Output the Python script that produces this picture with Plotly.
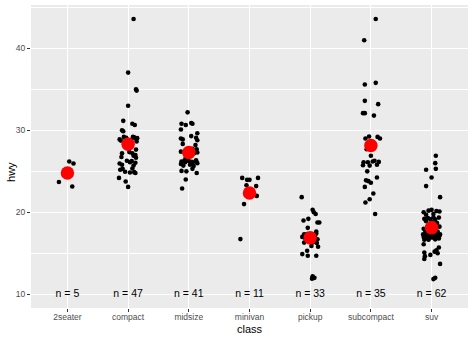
import numpy as np
import plotly.graph_objects as go

classes = ["2seater", "compact", "midsize", "minivan", "pickup", "subcompact", "suv"]

# hwy values per class (sorted) with explicit jitter offsets
hwy_2seater = [23, 24, 25, 26, 26]
jx_2seater = [0.08, -0.14, -0.02, 0.03, 0.10]
jy_2seater = [0.15, -0.3, -0.1, 0.2, -0.05]

hwy_compact = [23, 24, 24, 25, 25, 25, 25, 25, 25, 25, 26, 26, 26, 26, 26, 26, 26,
               27, 27, 27, 27, 27, 27, 27, 28, 29, 29, 29, 29, 29, 29, 29, 29, 29, 29, 29, 29,
               30, 30, 31, 31, 31, 33, 35, 35, 37, 44]
jx_compact = [0.0, -0.15, -0.04, -0.13, -0.05, 0.03, 0.10, 0.12, 0.07, -0.09,
              -0.10, 0.03, 0.12, -0.02, 0.09, 0.06, -0.14,
              -0.10, 0.07, 0.09, 0.12, -0.11, 0.02, 0.13, 0.13,
              -0.14, -0.07, 0.08, 0.12, 0.14, 0.03, -0.03, 0.10, -0.12, 0.05, 0.15, -0.05,
              -0.10, -0.08, -0.08, 0.07, 0.11, 0.0, 0.13, 0.14, 0.0, 0.09]
jy_compact = [0.1, 0.2, -0.25, 0.2, -0.05, -0.15, -0.1, -0.2, 0.35, 0.3,
              -0.2, 0.1, 0.05, 0.3, -0.3, 0.25, -0.05,
              0.2, 0.2, -0.1, 0.0, -0.25, 0.35, -0.35, -0.35,
              -0.1, 0.2, 0.2, 0.0, -0.35, -0.3, 0.1, 0.15, -0.25, -0.15, 0.05, -0.35,
              0.0, -0.1, 0.16, -0.2, -0.35, 0.0, 0.0, -0.15, 0.05, -0.4]

hwy_midsize = [23, 24, 25, 25, 25, 25, 26, 26, 26, 26, 26, 26, 26, 26, 26, 26, 26, 26, 26, 26,
               27, 27, 27, 27, 27, 28, 28, 28, 28, 29, 29, 29, 29, 29, 30, 30, 31, 31, 31, 31, 32]
jx_midsize = [-0.11, -0.05, -0.12, -0.04, 0.06, 0.13,
              -0.12, -0.06, 0.0, 0.05, 0.11, 0.14, -0.09, 0.02, 0.08, -0.13, 0.12, -0.02, 0.06, -0.07,
              -0.13, 0.09, 0.03, -0.05, 0.14, 0.11, 0.06, 0.13, -0.10,
              -0.13, -0.10, 0.12, 0.14, 0.04, -0.13, 0.14, -0.12, -0.05, 0.04, 0.06, -0.02]
jy_midsize = [-0.1, 0.0, 0.05, 0.0, 0.3, -0.2,
              0.2, 0.1, 0.25, 0.15, 0.2, 0.0, -0.3, -0.2, -0.35, -0.1, 0.35, 0.4, -0.1, 0.35,
              0.4, 0.2, 0.0, -0.3, 0.3, 0.2, -0.25, -0.3, 0.35,
              0.0, -0.1, 0.1, -0.2, 0.3, 0.1, -0.35, -0.2, -0.35, -0.1, -0.2, 0.2]

hwy_minivan = [17, 21, 22, 22, 22, 23, 23, 24, 24, 24, 24]
jx_minivan = [-0.15, -0.09, 0.12, 0.02, -0.04, -0.05, 0.11, -0.12, -0.04, 0.0, 0.14]
jy_minivan = [-0.27, 0.0, 0.0, 0.3, 0.35, 0.3, 0.2, 0.2, -0.04, -0.04, 0.2]

hwy_pickup = [12, 12, 12, 15, 15, 15, 15, 16, 16, 16, 16, 16,
              17, 17, 17, 17, 17, 17, 17, 17, 17, 17, 17, 18, 18, 19, 19, 19, 19, 20, 20, 20, 22]
jx_pickup = [0.04, 0.07, 0.03, -0.13, -0.05, -0.04, 0.10, 0.11, -0.10, 0.02, 0.13, 0.05,
             -0.13, -0.08, -0.02, 0.03, 0.08, 0.12, -0.05, 0.06, 0.0, -0.10, 0.10,
             -0.04, 0.10, -0.11, -0.03, 0.12, 0.15, 0.04, 0.06, 0.09, -0.14]
jy_pickup = [0.2, 0.0, -0.1, -0.1, 0.3, -0.3, -0.3, 0.25, 0.3, -0.1, -0.2, 0.35,
             0.0, -0.2, 0.2, -0.1, 0.1, -0.3, 0.35, 0.3, -0.35, 0.3, 0.4,
             0.1, -0.35, 0.0, 0.2, -0.25, -0.25, 0.3, 0.0, -0.2, -0.15]

hwy_subcompact = [20, 21, 22, 22, 23, 24, 24, 24, 24, 25, 26, 26, 26, 26, 26, 26, 26, 26,
                  27, 28, 28, 29, 29, 29, 29, 29, 32, 32, 32, 33, 34, 36, 36, 41, 44]
jx_subcompact = [0.07, -0.09, 0.04, -0.02, -0.10, -0.08, -0.04, 0.0, 0.10, -0.06,
                 -0.12, -0.05, 0.03, 0.06, 0.10, -0.02, 0.13, -0.13,
                 0.0, 0.05, -0.07, -0.09, -0.03, 0.11, 0.15, 0.01,
                 -0.13, -0.10, 0.05, 0.12, -0.10, -0.10, 0.08, -0.11, 0.08]
jy_subcompact = [-0.2, 0.2, 0.3, -0.4, 0.1, -0.1, -0.2, -0.4, 0.25, 0.0,
                 0.1, 0.1, 0.2, 0.3, -0.2, -0.3, 0.15, -0.25,
                 -0.1, 0.1, -0.3, 0.0, 0.25, 0.2, 0.0, -0.35,
                 0.1, 0.1, -0.2, 0.2, -0.4, -0.4, -0.2, 0.0, -0.4]

hwy_suv = [12, 12, 14, 14, 15, 15, 15, 15, 15, 15, 16, 16,
           17, 17, 17, 17, 17, 17, 17, 17, 17, 17, 17, 17, 17, 17, 17, 17, 17, 17, 17,
           18, 18, 18, 18, 18, 18, 18, 18, 19, 19, 19, 19, 19, 19, 19, 19, 19,
           20, 20, 20, 20, 20, 20, 20, 22, 23, 24, 25, 25, 26, 27]
jx_suv = [0.03, 0.06, -0.12, 0.14, -0.12, -0.11, 0.05, 0.10, -0.02, 0.08, -0.13, 0.12,
          -0.14, -0.10, -0.06, -0.02, 0.02, 0.06, 0.10, 0.14, -0.12, -0.04, 0.04, 0.12, -0.08, 0.0, 0.08, -0.13, 0.13, -0.05, 0.05,
          -0.13, -0.07, 0.0, 0.07, 0.13, -0.10, 0.04, 0.10,
          -0.12, -0.06, 0.0, 0.06, 0.12, -0.09, 0.03, 0.09, -0.02,
          -0.05, 0.0, 0.08, -0.13, 0.13, 0.03, -0.09, 0.14, -0.09, 0.0, -0.09, 0.07, 0.06, 0.07]
jy_suv = [-0.15, 0.0, 0.3, -0.3, 0.1, -0.35, 0.2, 0.0, -0.2, 0.35, 0.1, -0.3,
          0.3, -0.2, 0.35, -0.1, 0.2, -0.3, 0.1, 0.3, -0.35, 0.0, -0.15, -0.2, 0.25, 0.4, 0.35, 0.0, 0.15, -0.35, 0.0,
          0.0, 0.2, 0.1, -0.1, 0.25, -0.3, -0.25, -0.35,
          0.2, 0.3, -0.2, 0.1, 0.35, -0.1, 0.4, -0.3, 0.15,
          0.2, 0.3, 0.15, 0.0, 0.1, -0.2, -0.3, -0.15, 0.2, 0.25, 0.2, 0.3, 0.0, -0.1]

groups = [
    (hwy_2seater, jx_2seater, jy_2seater),
    (hwy_compact, jx_compact, jy_compact),
    (hwy_midsize, jx_midsize, jy_midsize),
    (hwy_minivan, jx_minivan, jy_minivan),
    (hwy_pickup, jx_pickup, jy_pickup),
    (hwy_subcompact, jx_subcompact, jy_subcompact),
    (hwy_suv, jx_suv, jy_suv),
]

xs, ys = [], []
means, counts = [], []
for i, (h, jx, jy) in enumerate(groups):
    pos = i + 1
    for v, dx, dy in zip(h, jx, jy):
        xs.append(pos + dx)
        ys.append(v + dy)
    means.append(float(np.mean(h)))
    counts.append(len(h))

positions = list(range(1, len(classes) + 1))

fig = go.Figure()
fig.add_trace(go.Scatter(x=xs, y=ys, mode="markers",
                         marker=dict(color="black", size=4.6, line=dict(width=0)),
                         hoverinfo="skip", showlegend=False))
fig.add_trace(go.Scatter(x=positions, y=means, mode="markers",
                         marker=dict(color="#FF0000", size=13.5, line=dict(width=0)),
                         showlegend=False))
fig.add_trace(go.Scatter(x=positions, y=[10] * len(classes), mode="text",
                         text=[f"n = {n}" for n in counts],
                         textposition="middle center",
                         textfont=dict(size=10.5, color="black", family="Liberation Sans"),
                         showlegend=False))

fig.update_layout(
    width=474, height=338,
    margin=dict(l=31, r=6, t=5, b=30),
    paper_bgcolor="white",
    plot_bgcolor="#EBEBEB",
    font=dict(family="Liberation Sans", color="black"),
    annotations=[
        dict(text="class", xref="paper", yref="paper", x=0.5, y=-0.069,
             xanchor="center", yanchor="middle", showarrow=False,
             font=dict(size=11, color="black")),
        dict(text="hwy", xref="paper", yref="paper", x=-0.0458, y=0.449,
             xanchor="center", yanchor="middle", textangle=-90, showarrow=False,
             font=dict(size=11, color="black")),
    ],
)
fig.update_xaxes(
    range=[0.4, 7.6], tickmode="array", tickvals=positions, ticktext=classes,
    showgrid=True, gridcolor="white", gridwidth=1.1, zeroline=False,
    ticks="outside", ticklen=3, tickwidth=1, tickcolor="#333333",
    tickfont=dict(size=8.5, color="#4D4D4D"), ticklabelstandoff=-2,
    showline=False, automargin=False,
)
fig.update_yaxes(
    range=[8.32, 45.3], tickmode="array", tickvals=[10, 20, 30, 40],
    showgrid=True, gridcolor="white", gridwidth=1.1, zeroline=False,
    ticks="outside", ticklen=3, tickwidth=1, tickcolor="#333333",
    tickfont=dict(size=8.5, color="#4D4D4D"),
    minor=dict(tickmode="array", tickvals=[15, 25, 35, 45], showgrid=True,
               gridcolor="white", gridwidth=0.55, ticks=""),
    showline=False, automargin=False,
)

fig.write_html("out.html")
